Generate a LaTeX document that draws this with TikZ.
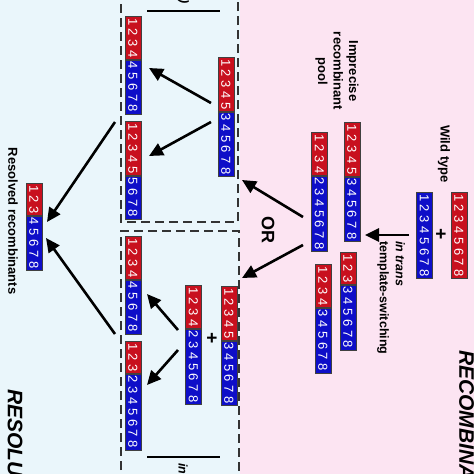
\documentclass[tikz,border=0pt]{standalone}
\usepackage{fontspec}
\setmainfont{Liberation Sans}
\usetikzlibrary{arrows.meta}
\definecolor{bgblue}{RGB}{234,246,251}
\definecolor{bgpink}{RGB}{252,228,242}
\definecolor{cred}{RGB}{200,16,30}
\definecolor{cblue}{RGB}{14,14,200}
\makeatletter
\def\digs#1{\digs@a#1\relax}
\def\digs@a#1{\ifx#1\relax\else\makebox[10.8pt]{#1}\expandafter\digs@a\fi}
\makeatother
\newcommand\cons[5]{%
  \node[seg,fill=cred,anchor=west] (#1r) at (#2,#3) {\digs{#4}};
  \node[seg,fill=cblue,anchor=west] (#1b) at (#1r.east) {\digs{#5}};}
\tikzset{
  seg/.style={rotate=-90, draw=black!75, line width=0.5pt, inner sep=0pt,
    minimum height=16pt, text=white, font=\fontsize{13}{13}\selectfont,
    text height=9.3pt, text depth=0pt},
  arr/.style={line width=2.6pt, -{Triangle[length=14pt,width=13pt]}},
  lbl/.style={rotate=-90, font=\bfseries\fontsize{13}{15.5}\selectfont, align=center, inner sep=0pt},
  big/.style={rotate=-90, font=\bfseries\itshape\fontsize{21}{21}\selectfont, anchor=west, inner sep=0pt},
  dsh/.style={line width=1.3pt, dash pattern=on 9pt off 5pt, black!80},
  plus/.style={font=\bfseries\fontsize{19}{19}\selectfont, inner sep=0pt},
  sm/.style={rotate=-90, font=\bfseries\itshape\fontsize{12.5}{15}\selectfont, inner sep=0pt}
}
\begin{document}
\begin{tikzpicture}[x=1pt,y=-1pt]
\useasboundingbox (0,0) rectangle (474,474);
\clip (0,0) rectangle (474,474);
\fill[bgblue] (0,0) rectangle (240,474);
\fill[bgpink] (240,0) rectangle (474,474);
% dashed boxes
\draw[dsh] (121,-10) -- (121,222) -- (238,222) -- (238,-10);
\draw[dsh] (121,484) -- (121,231) -- (239,231) -- (239,484);
% solid bracket lines
\draw[line width=1.2pt] (147,11) -- (220,11);
\draw[line width=1.2pt] (147,457) -- (220,457);
\node[sm, anchor=east] (cis) at (183,4) {(in cis)};
\node[sm, anchor=west] (trans) at (183,463) {in trans};
% constructs
\cons{A}{133}{16}{1234}{45678}
\cons{B}{133}{121}{12345}{5678}
\cons{C}{226}{57}{12345}{345678}
\cons{R}{34}{183}{123}{45678}
\cons{D}{133}{236}{1234}{45678}
\cons{E}{133}{341}{123}{2345678}
\cons{F}{193.5}{285}{1234}{2345678}
\cons{G}{229}{286}{12345}{345678}
\cons{H}{319.5}{132}{1234}{2345678}
\cons{I}{352}{122}{12345}{345678}
\cons{L}{348}{252}{123}{345678}
\cons{M}{323}{264}{1234}{345678}
\node[seg,fill=cblue,anchor=west] (J) at (424.5,192) {\digs{12345678}};
\node[seg,fill=cred,anchor=west] (K) at (459,192) {\digs{12345678}};
% labels
\node[lbl] (pool) at (337,71) {Imprecise\\recombinant\\pool};
\node[lbl] (wt) at (444,154) {Wild type};
\node[lbl] (res) at (13,221) {Resolved recombinants};
\node[lbl, align=left, anchor=west, font=\bfseries\fontsize{12.5}{16}\selectfont] (its) at (391,241) {\textit{in trans}\\template-switching};
\node[rotate=-90, font=\bfseries\fontsize{18}{18}\selectfont, inner sep=0pt] (or) at (268,230) {OR};
\node[plus] (p1) at (212,339) {+};
\node[plus] (p2) at (441,235) {+};
\node[big] (resol) at (15,389) {RESOLUTION};
\node[big] (recomb) at (466.5,350) {RECOMBINATION};
% arrows
\coordinate (a1s) at (211,103); \coordinate (a1e) at (149,68);
\coordinate (a2s) at (211,122); \coordinate (a2e) at (149,156);
\coordinate (a3s) at (115,122); \coordinate (a3e) at (47,222);
\coordinate (a4s) at (115,334); \coordinate (a4e) at (46,238);
\coordinate (a5s) at (178,330); \coordinate (a5e) at (147,294);
\coordinate (a6s) at (178,350); \coordinate (a6e) at (147,385);
\coordinate (a7s) at (303,217); \coordinate (a7e) at (242,180);
\coordinate (a8s) at (303,245); \coordinate (a8e) at (242,278);
\coordinate (a9s) at (409,235); \coordinate (a9e) at (365,235);
\foreach \i in {1,...,9} \draw[arr] (a\i s) -- (a\i e);
\end{tikzpicture}
\end{document}
